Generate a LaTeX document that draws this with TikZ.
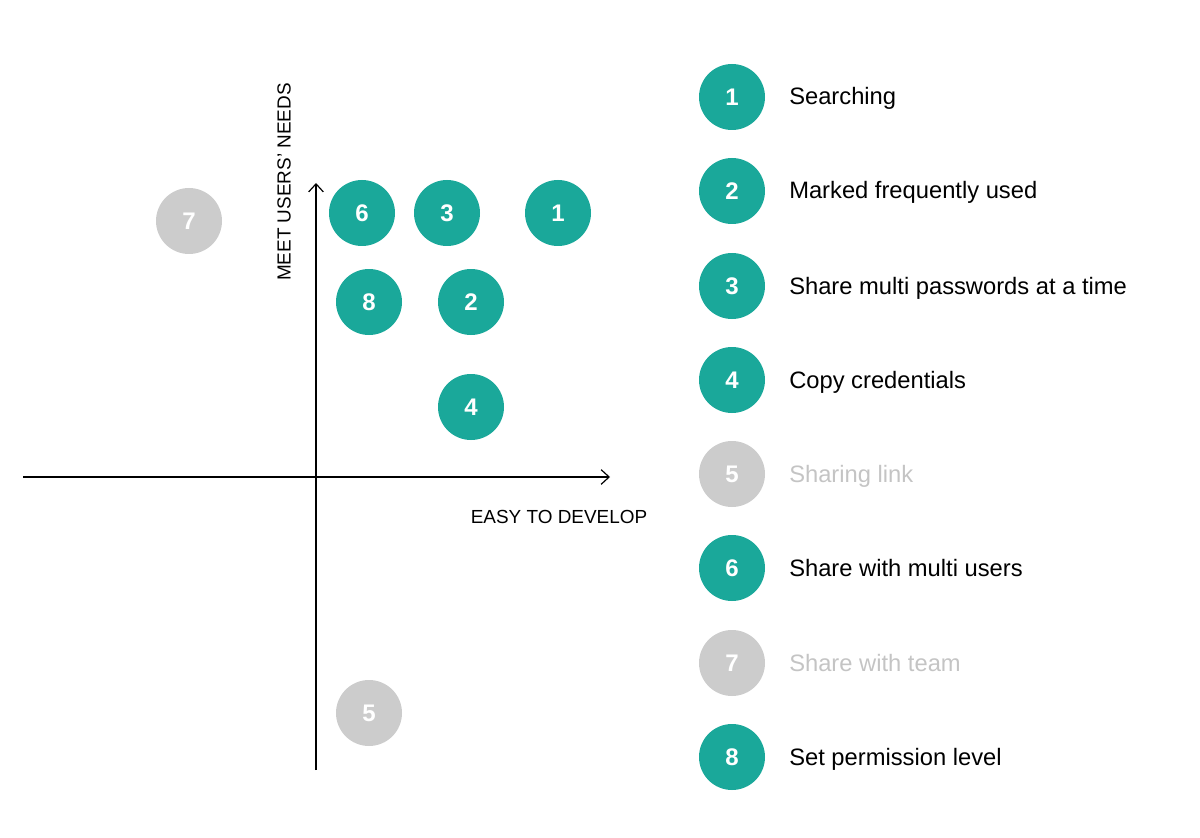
\documentclass[tikz,border=0pt]{standalone}
\usepackage{fontspec}
\setmainfont{Liberation Sans}
\usetikzlibrary{arrows.meta}
\definecolor{teal1}{HTML}{1AA89A}
\definecolor{gray1}{HTML}{CCCCCC}
\definecolor{graytxt}{HTML}{C4C4C4}
\begin{document}
\begin{tikzpicture}[x=0.75pt,y=-0.75pt,
  dot/.style={circle,fill=teal1,minimum size=49.5pt,inner sep=0pt,text=white,font=\fontsize{18}{18}\selectfont\bfseries},
  gdot/.style={dot,fill=gray1},
  ltxt/.style={anchor=base west,font=\fontsize{17.8}{19}\selectfont,text=black,inner sep=0pt},
  gtxt/.style={ltxt,text=graytxt},
  axis/.style={line width=0.9pt,-{Straight Barb[length=6pt,width=11pt]}},
  axlabel/.style={font=\fontsize{14.2}{15}\selectfont,inner sep=0pt}]
\useasboundingbox (0,0) rectangle (1200,838);
% axes
\coordinate (vb) at (316,770);
\coordinate (vt) at (316,183);
\coordinate (hl) at (23,477);
\coordinate (hr) at (610,477);
\draw[axis] (vb) -- (vt);
\draw[axis] (hl) -- (hr);
\node[axlabel,rotate=90] (ylab) at (284,182) {MEET USERS’ NEEDS};
\node[axlabel] (xlab) at (559,517) {EASY TO DEVELOP};
% plot dots
\node[gdot] (p7) at (189,221) {7};
\node[dot] (p6) at (362,213) {6};
\node[dot] (p3) at (447,213) {3};
\node[dot] (p1) at (558,213) {1};
\node[dot] (p8) at (369,302) {8};
\node[dot] (p2) at (471,302) {2};
\node[dot] (p4) at (471,407) {4};
\node[gdot] (p5) at (369,713) {5};
% legend
\node[dot] (l1) at (732,97) {1};
\node[ltxt] (t1) at (789,105) {Searching};
\node[dot] (l2) at (732,191) {2};
\node[ltxt] (t2) at (789,199) {Marked frequently used};
\node[dot] (l3) at (732,286) {3};
\node[ltxt] (t3) at (789,294) {Share multi passwords at a time};
\node[dot] (l4) at (732,380) {4};
\node[ltxt] (t4) at (789,388) {Copy credentials};
\node[gdot] (l5) at (732,474) {5};
\node[gtxt] (t5) at (789,482) {Sharing link};
\node[dot] (l6) at (732,568) {6};
\node[ltxt] (t6) at (789,576) {Share with multi users};
\node[gdot] (l7) at (732,663) {7};
\node[gtxt] (t7) at (789,671) {Share with team};
\node[dot] (l8) at (732,757) {8};
\node[ltxt] (t8) at (789,765) {Set permission level};
\end{tikzpicture}
\end{document}
